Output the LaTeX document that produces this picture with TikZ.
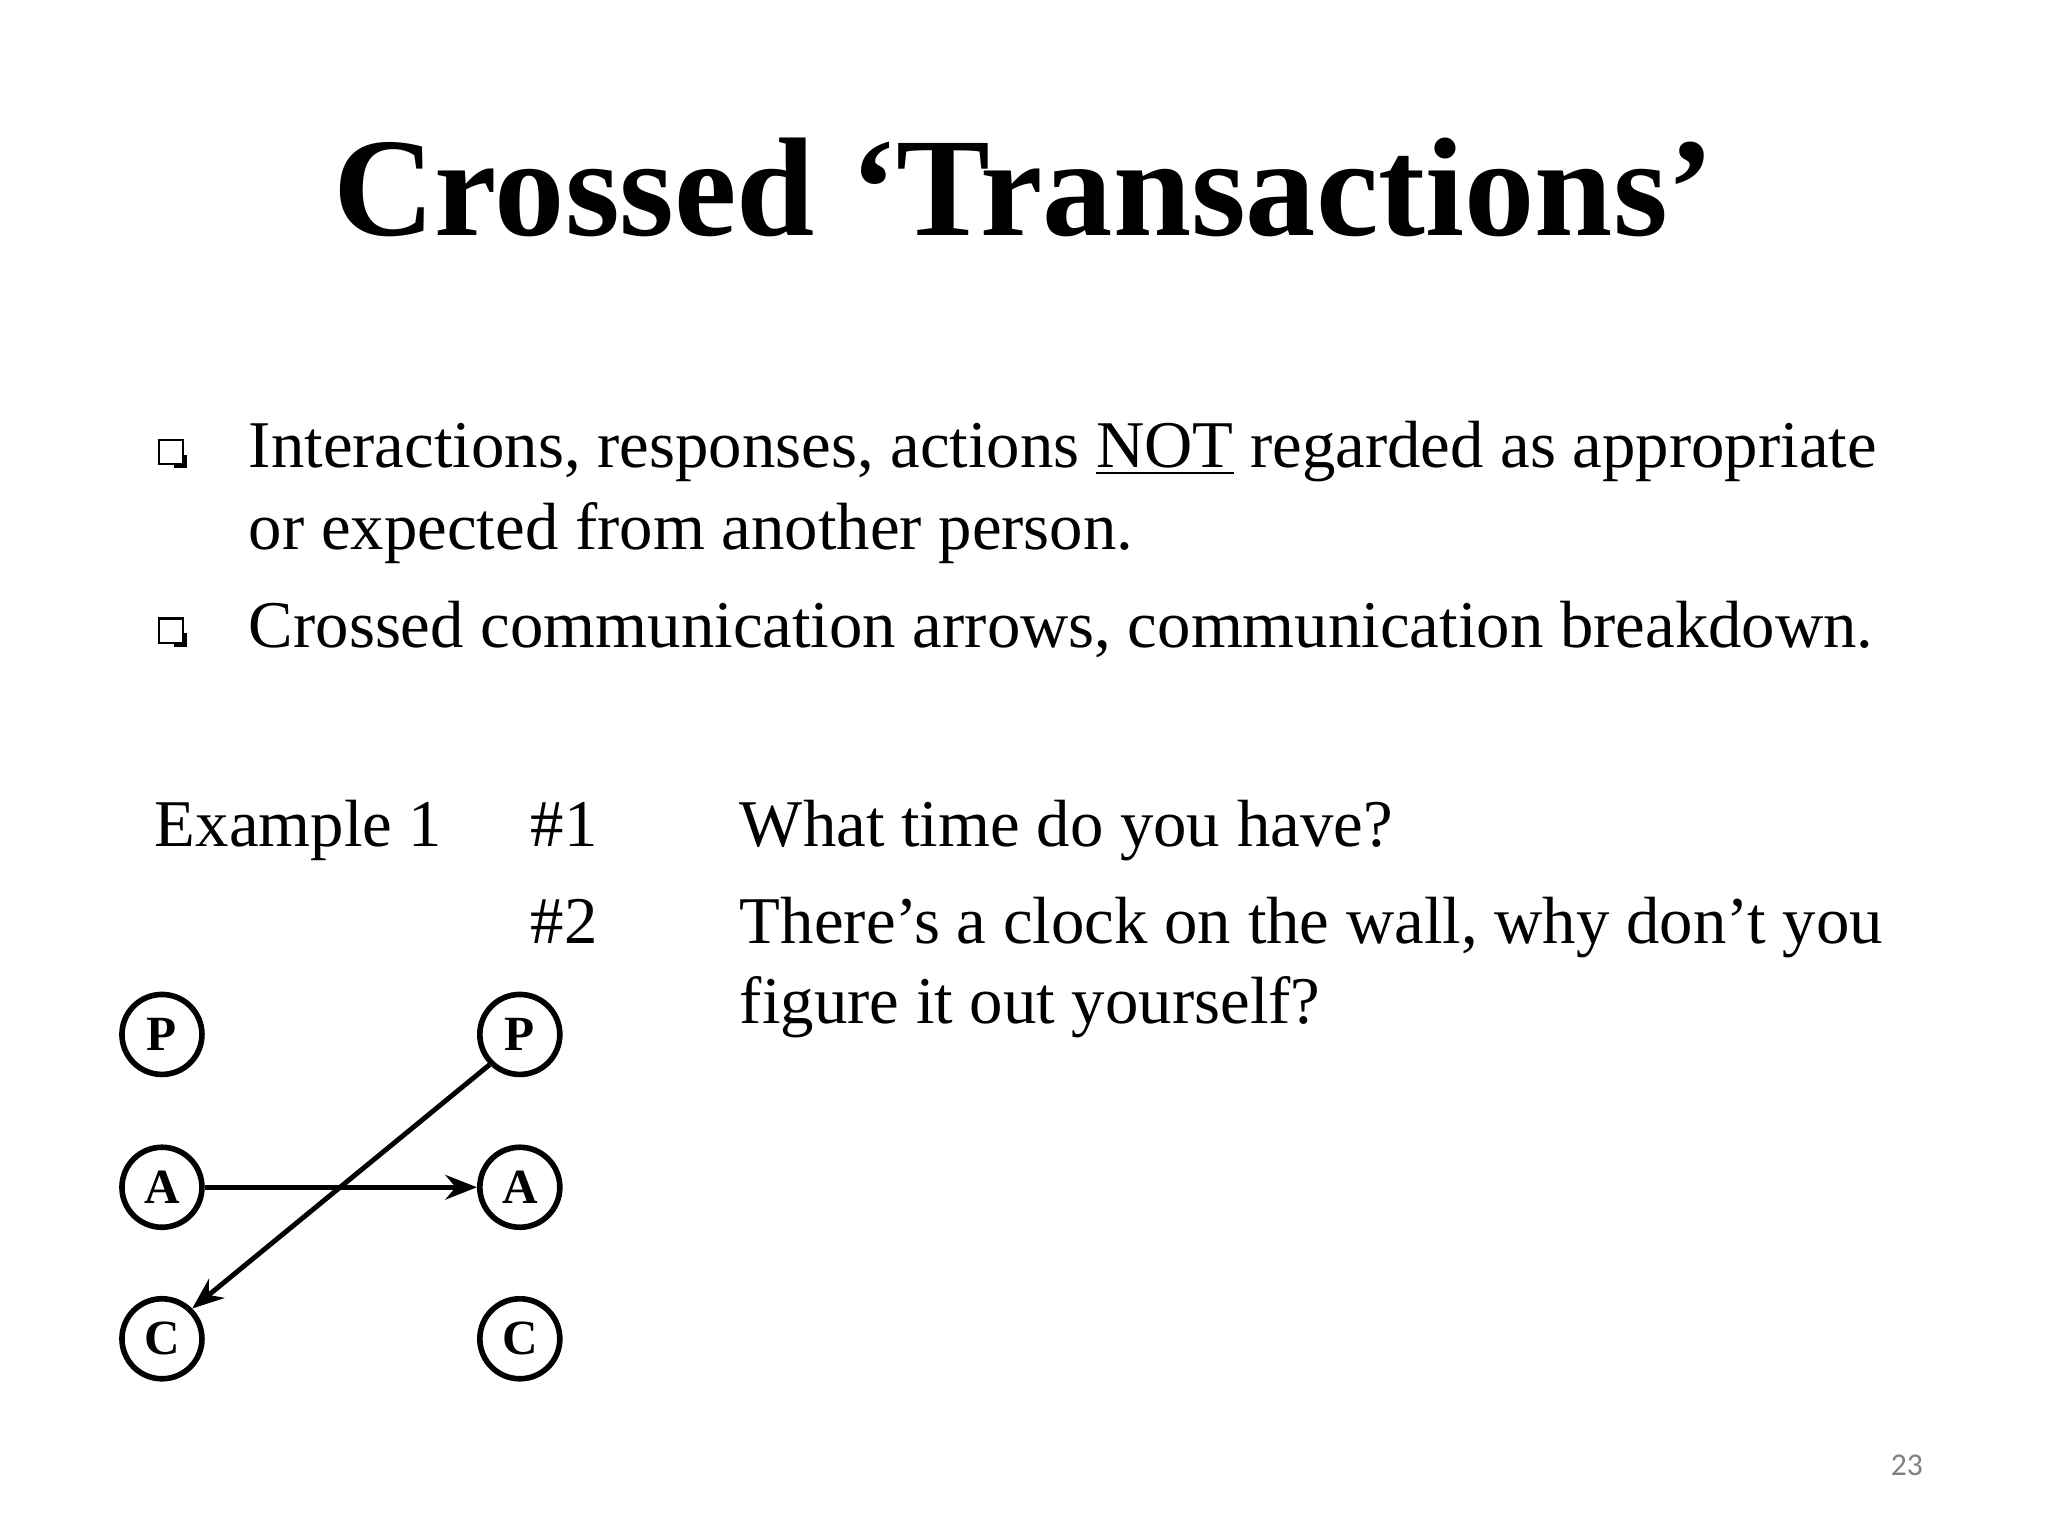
\documentclass[tikz,border=0pt]{standalone}
\usepackage{fontspec}
\setmainfont{Liberation Serif}
\newfontfamily\numfont{Carlito}
\usetikzlibrary{arrows.meta}
\begin{document}
\begin{tikzpicture}[x=0.013061cm,y=-0.013061cm,
  txt/.style={anchor=base west,inner sep=0,font=\fontsize{19}{23}\selectfont},
  st/.style={draw,line width=1.6pt,circle,minimum size=0.8cm,inner sep=0,font=\bfseries\fontsize{14}{14}\selectfont},
  conn/.style={line width=1.4pt,-{Stealth[length=9pt,width=7pt]}},
  bul/.style={draw,line width=0.6pt,fill=white,minimum size=7pt,inner sep=0}]
\useasboundingbox (0,0) rectangle (1568,1176);
\node[anchor=base,inner sep=0,font=\bfseries\fontsize{40}{44}\selectfont] (title) at (784,180) {Crossed ‘Transactions’};
% bullets
\fill (133,348) rectangle +(10,10);
\node[bul] (b1) at (131,346) {};
\fill (133,485) rectangle +(10,10);
\node[bul] (b2) at (131,483) {};
\node[txt] (t1) at (190,358) {Interactions, responses, actions \underline{NOT} regarded as appropriate};
\node[txt] (t2) at (190,421) {or expected from another person.};
\node[txt] (t3) at (190,496) {Crossed communication arrows, communication breakdown.};
\node[txt] (ex) at (118,648) {Example 1};
\node[txt] (n1) at (406,648) {\#1};
\node[txt] (q1) at (566,648) {What time do you have?};
\node[txt] (n2) at (406,722) {\#2};
\node[txt] (q2) at (566,722) {There’s a clock on the wall, why don’t you};
\node[txt] (q3) at (566,784) {figure it out yourself?};
% circles
\node[st] (lp) at (124,792) {P};
\node[st] (la) at (124,909) {A};
\node[st] (lc) at (124,1025) {C};
\node[st] (rp) at (398,792) {P};
\node[st] (ra) at (398,909) {A};
\node[st] (rc) at (398,1025) {C};
\draw[conn] (la) -- (ra);
\draw[conn] (rp.south west) -- (lc.north east);
\node[anchor=base,inner sep=0,text=gray,font=\numfont\fontsize{9}{10}\selectfont] (pg) at (1460,1130) {23};
\end{tikzpicture}
\end{document}
